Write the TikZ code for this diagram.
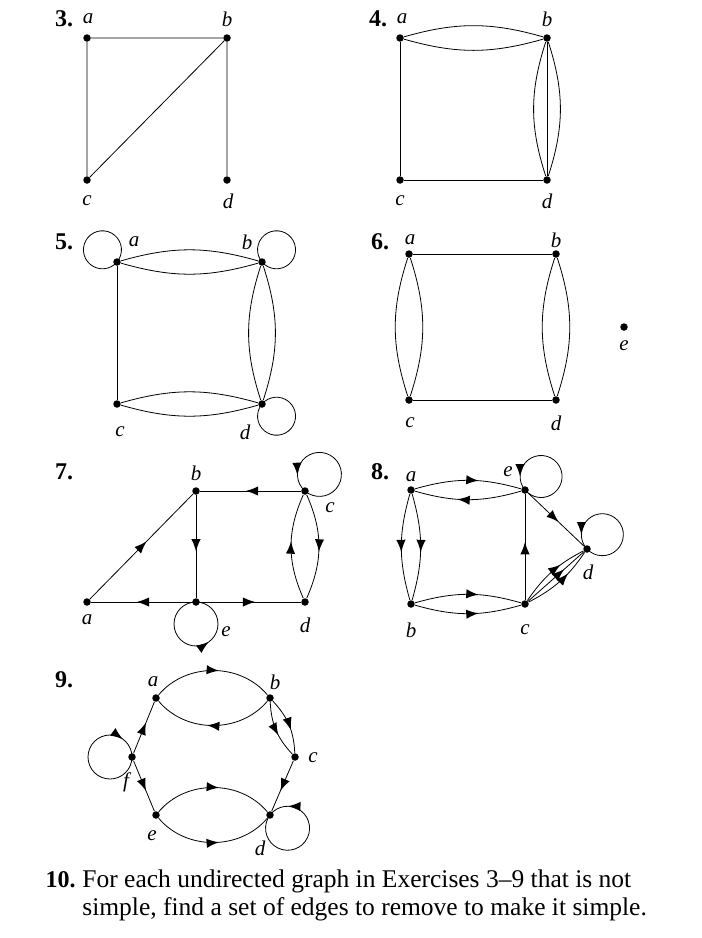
\documentclass[tikz,border=0pt]{standalone}
\usepackage{fontspec}
\setmainfont{Liberation Serif}
\usetikzlibrary{arrows.meta,decorations.markings}
\begin{document}
\begin{tikzpicture}[x=1pt,y=1pt,line width=0.8pt,
 v/.style={circle,fill=black,inner sep=0pt,minimum size=7.5pt},
 lb/.style={font=\fontsize{21}{22}\selectfont\itshape},
 num/.style={font=\fontsize{24}{25}\selectfont\bfseries},
 ma/.style={postaction={decorate,decoration={markings,mark=at position #1 with {\arrow[scale=1.9]{Latex}}}}},
 ma/.default=0.55]
\useasboundingbox (0,0) rectangle (702,-938);
% ---- 3
\node[num] at (64,-19) {3.};
\node[v] (a3) at (87,-38) {}; \node[v] (b3) at (227,-38) {};
\node[v] (c3) at (87,-180) {}; \node[v] (d3) at (227,-180) {};
\node[lb] at (88,-19) {a}; \node[lb] at (227,-19) {b};
\node[lb] at (87,-201) {c}; \node[lb] at (228,-201) {d};
\draw (a3)--(b3) (a3)--(c3) (b3)--(c3) (b3)--(d3);
% ---- 4
\node[num] at (378,-19) {4.};
\node[v] (a4) at (400,-38) {}; \node[v] (b4) at (547,-38) {};
\node[v] (c4) at (400,-180) {}; \node[v] (d4) at (547,-180) {};
\node[lb] at (402,-19) {a}; \node[lb] at (547,-19) {b};
\node[lb] at (400,-201) {c}; \node[lb] at (547,-201) {d};
\draw (a4) to[bend left=16] (b4); \draw (a4) to[bend right=16] (b4);
\draw (b4)--(d4); \draw (b4) to[bend left=18] (d4); \draw (b4) to[bend right=18] (d4);
\draw (a4)--(c4) (c4)--(d4);
% ---- 5
\node[num] at (64,-242) {5.};
\node[v] (a5) at (117,-262) {}; \node[v] (b5) at (262,-262) {};
\node[v] (c5) at (117,-404) {}; \node[v] (d5) at (262,-404) {};
\node[lb] at (134,-242) {a}; \node[lb] at (247,-242) {b};
\node[lb] at (120,-432) {c}; \node[lb] at (245,-432) {d};
\draw (a5) to[bend left=16] (b5); \draw (a5) to[bend right=16] (b5);
\draw (c5) to[bend left=16] (d5); \draw (c5) to[bend right=16] (d5);
\draw (b5) to[bend left=18] (d5); \draw (b5) to[bend right=18] (d5);
\draw (a5)--(c5);
\draw (a5) arc[start angle=-40,delta angle=360,radius=19];
\draw (b5) arc[start angle=220,delta angle=360,radius=19];
\draw (d5) arc[start angle=140,delta angle=360,radius=19];
% ---- 6
\node[num] at (380,-242) {6.};
\node[v] (a6) at (409,-254) {}; \node[v] (b6) at (556,-254) {};
\node[v] (c6) at (409,-400) {}; \node[v] (d6) at (556,-400) {};
\node[v] (e6) at (624,-327) {};
\node[lb] at (410,-240) {a}; \node[lb] at (556,-240) {b};
\node[lb] at (410,-423) {c}; \node[lb] at (556,-423) {d}; \node[lb] at (624,-346) {e};
\draw (a6)--(b6) (c6)--(d6);
\draw (a6) to[bend left=18] (c6); \draw (a6) to[bend right=18] (c6);
\draw (b6) to[bend left=18] (d6); \draw (b6) to[bend right=18] (d6);
% ---- 7
\node[num] at (64,-472) {7.};
\node[v] (a7) at (87,-602) {}; \node[v] (b7) at (196,-491) {};
\node[v] (c7) at (305,-491) {}; \node[v] (d7) at (305,-602) {};
\node[v] (e7) at (196,-602) {};
\node[lb] at (87,-620) {a}; \node[lb] at (196,-473) {b};
\node[lb] at (330,-508) {c}; \node[lb] at (305,-625) {d}; \node[lb] at (226,-632) {e};
\draw[ma] (a7)--(b7); \draw[ma] (b7)--(e7); \draw[ma] (c7)--(b7);
\draw[ma] (e7)--(a7); \draw[ma] (e7)--(d7);
\draw[ma] (c7) to[bend left=24] (d7); \draw[ma] (d7) to[bend left=24] (c7);
\draw[ma=0.87] (c7) arc[start angle=229,delta angle=360,radius=22];
\draw[ma=0.6] (e7) arc[start angle=90,delta angle=360,radius=22];
% ---- 8
\node[num] at (380,-472) {8.};
\node[v] (a8) at (411,-490) {}; \node[v] (e8) at (525,-490) {};
\node[v] (b8) at (411,-604) {}; \node[v] (c8) at (525,-604) {};
\node[v] (d8) at (587,-549) {};
\node[lb] at (411,-477) {a}; \node[lb] at (508,-472) {e};
\node[lb] at (411,-630) {b}; \node[lb] at (525,-630) {c}; \node[lb] at (588,-572) {d};
\draw[ma=0.6] (a8) to[bend left=16] (e8); \draw[ma=0.6] (e8) to[bend left=16] (a8);
\draw[ma] (a8) to[bend left=16] (b8); \draw[ma] (a8) to[bend right=16] (b8);
\draw[ma=0.6] (b8) to[bend left=16] (c8); \draw[ma=0.6] (b8) to[bend right=16] (c8);
\draw[ma] (c8)--(e8); \draw[ma] (e8)--(d8);
\draw[ma=0.65] (c8)--(d8); \draw[ma=0.65] (c8) to[bend left=14] (d8); \draw[ma=0.65] (c8) to[bend right=14] (d8);
\draw[ma=0.89] (e8) arc[start angle=220,delta angle=360,radius=21];
\draw[ma=0.88] (d8) arc[start angle=223,delta angle=360,radius=21];
% ---- 9
\node[num] at (64,-680) {9.};
\node[v] (a9) at (156,-698) {}; \node[v] (b9) at (270,-698) {};
\node[v] (c9) at (295,-757) {}; \node[v] (d9) at (270,-815) {};
\node[v] (e9) at (156,-815) {}; \node[v] (f9) at (132,-757) {};
\node[lb] at (153,-682) {a}; \node[lb] at (275,-682) {b}; \node[lb] at (313,-758) {c};
\node[lb] at (126,-782) {f}; \node[lb] at (152,-836) {e}; \node[lb] at (260,-848) {d};
\draw[ma] (a9) to[bend left=50] (b9); \draw[ma] (b9) to[bend left=50] (a9);
\draw[ma=0.6] (b9) to[bend left=20] (c9); \draw[ma=0.6] (b9) to[bend right=20] (c9);
\draw[ma=0.6] (c9)--(d9); \draw[ma=0.6] (f9)--(a9); \draw[ma=0.6] (f9)--(e9);
\draw[ma] (e9) to[bend left=50] (d9); \draw[ma] (e9) to[bend right=50] (d9);
\draw[ma=0.85] (f9) arc[start angle=0,delta angle=-360,radius=22];
\draw[ma=0.85] (d9) arc[start angle=143,delta angle=360,radius=22];
% ---- 10
\node[num,anchor=base east,inner sep=0pt] at (76,-887) {10.};
\node[anchor=base west,font=\fontsize{25.5}{28}\selectfont,inner sep=0pt] at (82,-887)
 {For each undirected graph in Exercises 3--9 that is not};
\node[anchor=base west,font=\fontsize{25.5}{28}\selectfont,inner sep=0pt] at (82,-915)
 {simple, find a set of edges to remove to make it simple.};
\end{tikzpicture}
\end{document}
